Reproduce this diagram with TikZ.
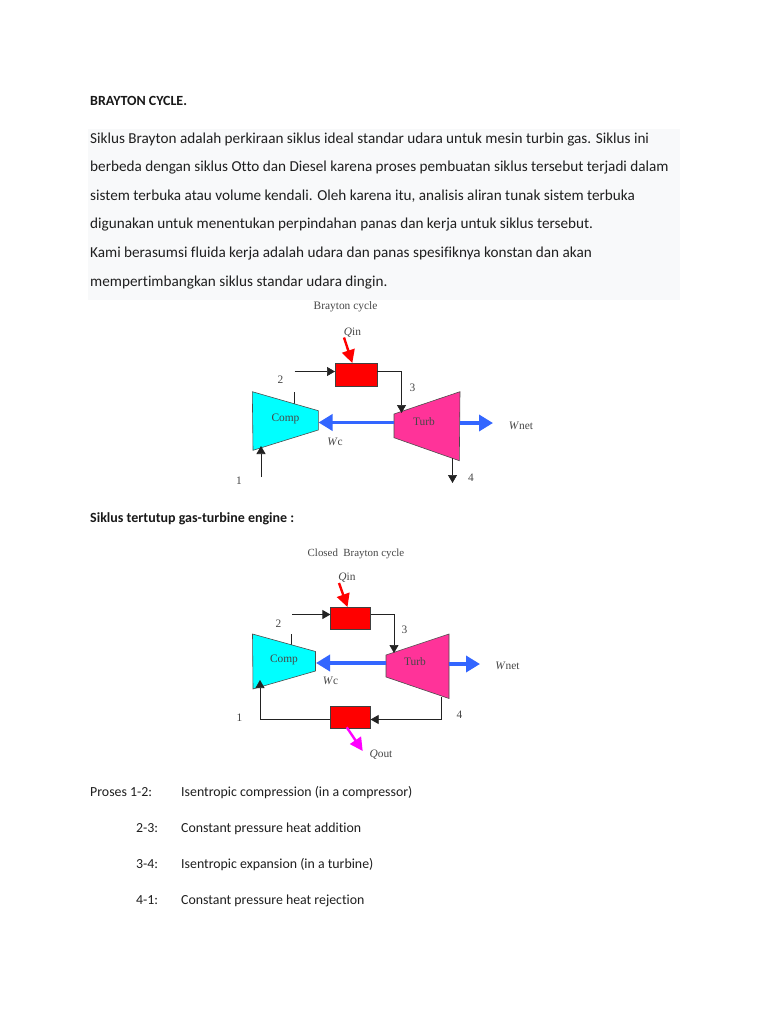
\documentclass[tikz,border=0pt]{standalone}
\usepackage{fontspec}
\setmainfont[RawFeature={-liga}]{Carlito}
\newfontfamily\serifdiag{Liberation Serif}
\usetikzlibrary{arrows.meta}
\definecolor{cyancomp}{HTML}{00FFFF}
\definecolor{pinkturb}{HTML}{FF3399}
\definecolor{shaftblue}{HTML}{3366FF}
\definecolor{panel}{HTML}{F8F9FA}
\definecolor{inkline}{HTML}{222222}
\definecolor{qmag}{HTML}{FF00FF}
\tikzset{
 body/.style={anchor=base west,inner sep=0pt,font=\fontsize{15.2}{16}\selectfont,text=black!88},
 listt/.style={anchor=base west,inner sep=0pt,font=\fontsize{13.85}{16}\selectfont,text=black!88},
 head/.style={anchor=base west,inner sep=0pt,font=\fontsize{14}{16}\selectfont\bfseries,text=black!90},
 lab/.style={inner sep=0pt,font=\serifdiag\fontsize{11.4}{13}\selectfont,text=black!72},
 heater/.style={draw=black!75,fill=red,line width=0.7pt},
 comp/.style={draw=black!70,fill=cyancomp,line width=0.6pt},
 turb/.style={draw=black!70,fill=pinkturb,line width=0.6pt},
 flow/.style={draw=inkline,line width=0.7pt,-{Triangle[length=8pt,width=9pt]}},
 plain/.style={draw=inkline,line width=0.7pt},
 shaft/.style={draw=shaftblue,line width=3.6pt,-{Triangle[length=14pt,width=16pt]}},
 qin/.style={draw=red,line width=2.4pt,-{Triangle[length=13pt,width=13pt]}},
 qout/.style={draw=qmag,line width=2.4pt,-{Triangle[length=13pt,width=13pt]}},
}
\begin{document}
\begin{tikzpicture}[x=1pt,y=-1pt]
\useasboundingbox (0,0) rectangle (768,1024);
\fill[white] (0,0) rectangle (768,1024);
\fill[panel] (88,129) rectangle (680,300);
% text
\node[head] (title) at (90,106) {BRAYTON CYCLE.};
\node[body] (p1) at (90,144) {Siklus Brayton adalah perkiraan siklus ideal standar udara untuk mesin turbin gas. Siklus ini};
\node[body] (p2) at (90,172) {berbeda dengan siklus Otto dan Diesel karena proses pembuatan siklus tersebut terjadi dalam};
\node[body] (p3) at (90,201) {sistem terbuka atau volume kendali. Oleh karena itu, analisis aliran tunak sistem terbuka};
\node[body] (p4) at (90,229) {digunakan untuk menentukan perpindahan panas dan kerja untuk siklus tersebut.};
\node[body] (p5) at (90,258) {Kami berasumsi fluida kerja adalah udara dan panas spesifiknya konstan dan akan};
\node[body] (p6) at (90,286) {mempertimbangkan siklus standar udara dingin.};
\node[head] (sub) at (90,522) {Siklus tertutup gas-turbine engine :};
\node[listt] (a1) at (90,796) {Proses 1-2:};
\node[listt] (b1) at (181,796) {Isentropic compression (in a compressor)};
\node[listt] (a2) at (136,832) {2-3:};
\node[listt] (b2) at (181,832) {Constant pressure heat addition};
\node[listt] (a3) at (136,868) {3-4:};
\node[listt] (b3) at (181,868) {Isentropic expansion (in a turbine)};
\node[listt] (a4) at (136,904) {4-1:};
\node[listt] (b4) at (181,904) {Constant pressure heat rejection};

% ---- Diagram 1
\node[lab] (t1) at (345.5,307) {Brayton cycle};
\draw[plain] (294,392) -- (294,404);
\draw[comp] (252.3,391.7) -- (318.3,410.7) -- (318.3,430) -- (253,450.3) -- cycle;
\draw[turb] (394,414) -- (460,391.7) -- (459.3,460.7) -- (394,437.7) -- cycle;
\node[heater,minimum width=41.7pt,minimum height=23pt,inner sep=0pt] (h1) at (356.2,374.5) {};
\node[lab] at (285.5,419) {Comp};
\node[lab] at (424,421.5) {Turb};
\coordinate (c2a) at (294.5,371.5);
\coordinate (tin1) at (401.5,413);
\coordinate (c1a) at (261,477);
\coordinate (cin1) at (261,446);
\coordinate (tout1) at (452.5,458);
\coordinate (e4a) at (452.5,483);
\coordinate (qa) at (344,337.5);
\coordinate (qb) at (352.3,363);
\coordinate (sh1a) at (394,422.5);
\coordinate (sh1b) at (318.5,422.5);
\coordinate (ws1a) at (460,423);
\coordinate (ws1b) at (493,423);
\draw[flow] (c2a) -- (h1.west |- c2a);
\draw[flow] (h1.east |- c2a) -- (401.5,371.5) -- (tin1);
\draw[flow] (c1a) -- (cin1);
\draw[flow] (tout1) -- (e4a);
\draw[qin] (qa) -- (qb);
\draw[shaft] (sh1a) -- (sh1b);
\draw[shaft] (ws1a) -- (ws1b);
\node[lab] at (352.5,332.5) {\textit{Q}in};
\node[lab] at (280.5,380) {2};
\node[lab] at (412.5,388) {3};
\node[lab] at (239,480.5) {1};
\node[lab] at (471,478) {4};
\node[lab] at (335,441.5) {\textit{W}c};
\node[lab] at (521,426) {\textit{W}net};

% ---- Diagram 2
\node[lab,font=\serifdiag\fontsize{10.9}{13}\selectfont] (t2) at (356,553.5) {Closed\ \ Brayton cycle};
\draw[plain] (291.5,634) -- (291.5,646);
\draw[comp] (252.5,634) -- (315.5,651.5) -- (315.5,671) -- (253,689) -- cycle;
\draw[turb] (386,655) -- (449,634) -- (449,698.5) -- (386,677) -- cycle;
\node[heater,minimum width=39.5pt,minimum height=22pt,inner sep=0pt] (h2) at (350.5,618) {};
\node[heater,minimum width=39.5pt,minimum height=22pt,inner sep=0pt] (h3) at (350.5,717) {};
\node[lab] at (284,660) {Comp};
\node[lab] at (415,661.5) {Turb};
\coordinate (c2b) at (292,614.5);
\coordinate (tin2) at (394,653);
\coordinate (cin2) at (260,680);
\coordinate (k1) at (260,719.5);
\coordinate (k4) at (441.5,719.5);
\coordinate (tout2) at (441.5,697);
\coordinate (qa2) at (339,583);
\coordinate (qb2) at (347.5,607);
\coordinate (qc) at (346.7,727.3);
\coordinate (qd) at (362.7,751);
\draw[flow] (c2b) -- (h2.west |- c2b);
\draw[flow] (h2.east |- c2b) -- (394,614.5) -- (tin2);
\draw[flow] (tout2) -- (k4) -- (h3.east |- k4);
\draw[flow] (h3.west |- k1) -- (k1) -- (cin2);
\draw[qin] (qa2) -- (qb2);
\draw[qout] (qc) -- (qd);
\draw[shaft] (386,663) -- (316,663);
\draw[shaft] (449,664) -- (480,664);
\node[lab] at (347,578) {\textit{Q}in};
\node[lab] at (278.5,623.5) {2};
\node[lab] at (404.5,630) {3};
\node[lab] at (239.5,717.5) {1};
\node[lab] at (459.5,715) {4};
\node[lab] at (330.5,681) {\textit{W}c};
\node[lab] at (507.5,666) {\textit{W}net};
\node[lab] at (381,755) {\textit{Q}out};
\end{tikzpicture}
\end{document}
